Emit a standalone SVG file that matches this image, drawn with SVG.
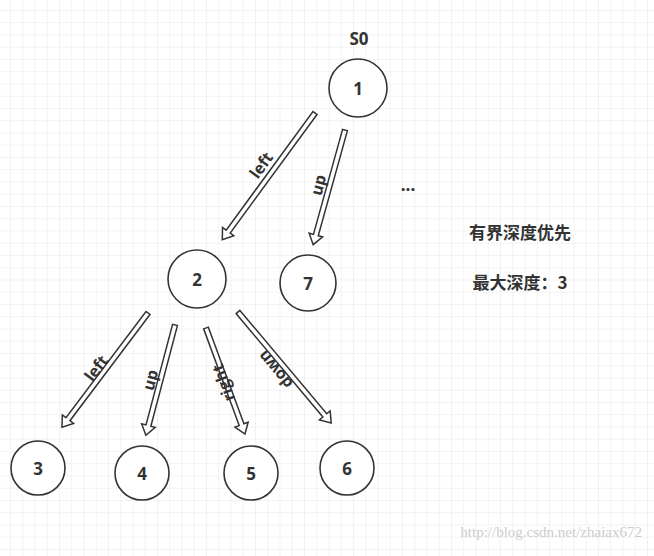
<svg xmlns="http://www.w3.org/2000/svg" width="654" height="556" viewBox="0 0 654 556">
<defs>
<pattern id="g" x="10" y="10" width="12.25" height="12.25" patternUnits="userSpaceOnUse">
<path d="M0 0H12.25M0 0V12.25" fill="none" stroke="#e6e6e6" stroke-width="1"/>
</pattern>
</defs>
<style>
.n circle{fill:#fff;stroke:#333;stroke-width:1.6}
.t{font-family:"Open Sans","Liberation Sans",sans-serif;font-weight:bold;font-size:17px;fill:#333;text-anchor:middle;dominant-baseline:central}
.a{fill:#fff;stroke:#333;stroke-width:1.5;stroke-linejoin:miter}
.l{font-family:"Open Sans","Liberation Sans",sans-serif;font-weight:bold;font-size:16px;fill:#333;text-anchor:middle;dominant-baseline:central}
</style>
<rect width="654" height="556" fill="#fff"/>
<rect width="654" height="556" fill="url(#g)"/>
<g id="connectors">
<polygon class="a" transform="translate(315,113) rotate(126.2)" points="0,-2.5 147,-2.5 147,-7 157,0 147,7 147,2.5 0,2.5"/>
<polygon class="a" transform="translate(345,130) rotate(105.5)" points="0,-2.5 109,-2.5 109,-7 119,0 109,7 109,2.5 0,2.5"/>
<polygon class="a" transform="translate(148,313) rotate(127)" points="0,-2.5 133,-2.5 133,-7 143,0 133,7 133,2.5 0,2.5"/>
<polygon class="a" transform="translate(175,325) rotate(104.8)" points="0,-2.5 104,-2.5 104,-7 114,0 104,7 104,2.5 0,2.5"/>
<polygon class="a" transform="translate(206,328) rotate(69.8)" points="0,-2.5 103,-2.5 103,-7 113,0 103,7 103,2.5 0,2.5"/>
<polygon class="a" transform="translate(238,312) rotate(50)" points="0,-2.5 135,-2.5 135,-7 145,0 135,7 135,2.5 0,2.5"/>
<text class="l" transform="translate(261,165) rotate(-54)">left</text>
<text class="l" transform="translate(318,185) rotate(-75)">up</text>
<text class="l" transform="translate(96,368) rotate(-53)">left</text>
<text class="l" transform="translate(150,380) rotate(-75)">up</text>
<text class="l" transform="translate(223,383) rotate(-110)">right</text>
<text class="l" transform="translate(275,370) rotate(-130)">down</text>
</g>
<g id="n1" class="n"><circle cx="358" cy="88" r="29"/><text class="t" x="358" y="88">1</text></g>
<g id="n2" class="n"><circle cx="197" cy="279" r="29"/><text class="t" x="197" y="279">2</text></g>
<g id="n7" class="n"><circle cx="308" cy="283" r="28"/><text class="t" x="308" y="283">7</text></g>
<g id="n3" class="n"><circle cx="38" cy="468" r="27"/><text class="t" x="38" y="468">3</text></g>
<g id="n4" class="n"><circle cx="142" cy="473" r="27"/><text class="t" x="142" y="473">4</text></g>
<g id="n5" class="n"><circle cx="251" cy="473" r="27"/><text class="t" x="251" y="473">5</text></g>
<g id="n6" class="n"><circle cx="347" cy="468" r="27"/><text class="t" x="347" y="468">6</text></g>
<text class="t" x="359" y="38">S0</text>
<text class="t" x="408" y="184">...</text>
<text class="t" x="520" y="231" style="font-family:'Noto Sans CJK SC',sans-serif">有界深度优先</text>
<text class="t" x="520" y="281" style="font-family:'Noto Sans CJK SC',sans-serif">最大深度：3</text>
<text x="642" y="537" text-anchor="end" font-family="Liberation Serif,serif" font-size="15" fill="#ccc">http://blog.csdn.net/zhaiax672</text>
</svg>
